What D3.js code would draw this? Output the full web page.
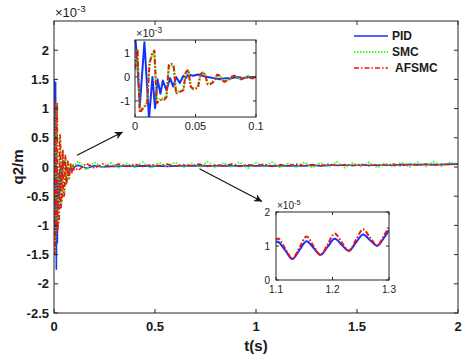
<!DOCTYPE html>
<html>
<head>
<meta charset="utf-8">
<script src="https://cdn.jsdelivr.net/npm/d3@7"></script>
<style>
  body { margin: 0; background: #fff; }
  svg text { font-family: "Liberation Sans", Arial, Helvetica, sans-serif; fill: #1a1a1a; }
</style>
</head>
<body>
<svg id="chart" width="474" height="354"></svg>
<script>
// ---------------------------------------------------------------------------
// q2 tracking error, PID vs SMC vs AFSMC, with two zoomed insets
// values in units of 1e-3 (main + first inset) and 1e-5 (second inset)
// ---------------------------------------------------------------------------

// transient, 0 .. 0.1 s (SMC / AFSMC share a time grid)
const tStart = [0, 0.002, 0.004, 0.006, 0.008, 0.010, 0.012, 0.014, 0.016, 0.018,
  0.020, 0.022, 0.024, 0.026, 0.028, 0.030, 0.032, 0.034, 0.036, 0.038,
  0.040, 0.042, 0.044, 0.046, 0.048, 0.050, 0.052, 0.054, 0.056, 0.058,
  0.060, 0.062, 0.064, 0.066, 0.068, 0.070, 0.072, 0.074, 0.076, 0.078,
  0.080, 0.082, 0.084, 0.086, 0.088, 0.090, 0.092, 0.094, 0.096, 0.098, 0.100];
const afsmcStart = [0.35, 1.15, -1.5, -1.35, -1.25, -1.1, 0.55, 0.95, 1.1, -1.1,
  -1.0, -0.95, -0.95, -0.85, 0.5, 0.55, 0.45, -0.7, -0.65, -0.6,
  -0.55, 0.2, 0.3, -0.4, -0.5, -0.5, -0.45, 0.1, 0.2, 0.1,
  -0.3, -0.3, -0.25, -0.1, 0.1, 0.05, -0.15, -0.2, -0.15, -0.1,
  0.0, 0.05, 0.0, -0.1, -0.1, -0.05, 0.0, 0.02, -0.05, -0.05, 0.0];
const smcStart = [0.3, 1.1, -1.45, -1.3, -1.2, -1.05, 0.6, 0.9, 1.05, -1.05,
  -0.95, -0.9, -0.9, -0.8, 0.45, 0.5, 0.42, -0.65, -0.6, -0.58,
  -0.5, 0.18, 0.28, -0.38, -0.46, -0.47, -0.42, 0.08, 0.18, 0.08,
  -0.28, -0.28, -0.22, -0.08, 0.08, 0.04, -0.12, -0.18, -0.13, -0.08,
  0.02, 0.06, 0.02, -0.08, -0.08, -0.03, 0.02, 0.04, -0.03, -0.02, 0.02];
// PID has its own (uneven) grid, sampled at its peaks
const pidStartT = [0, 0.0005, 0.0015, 0.004, 0.0078, 0.0116, 0.0144, 0.0166, 0.0186, 0.021,
  0.023, 0.026, 0.029, 0.0316, 0.034, 0.037, 0.040, 0.042, 0.044, 0.048,
  0.052, 0.056, 0.060, 0.065, 0.070, 0.075, 0.080, 0.085, 0.090, 0.095, 0.100];
const pidStart = [1.45, 1.5, 0.9, -1.2, 1.45, -1.75, 0.0, -1.3, -0.1, -0.7,
  -0.15, -0.55, -0.05, -0.4, 0.0, -0.25, 0.05, -0.05, 0.1, 0.05,
  0.1, 0.05, 0.0, -0.05, -0.1, -0.05, -0.05, 0.0, -0.05, 0.0, 0.0];

// steady state, 0.12 .. 2 s
const tTail = [0.12, 0.16, 0.20, 0.24, 0.28, 0.32, 0.36, 0.40, 0.44, 0.48,
  0.52, 0.56, 0.60, 0.64, 0.68, 0.72, 0.76, 0.80, 0.84, 0.88,
  0.92, 0.96, 1.00, 1.04, 1.08, 1.12, 1.16, 1.20, 1.24, 1.28,
  1.32, 1.36, 1.40, 1.44, 1.48, 1.52, 1.56, 1.60, 1.64, 1.68,
  1.72, 1.76, 1.80, 1.84, 1.88, 1.92, 1.96, 2.00];
const pidTail = [0.03, -0.02, 0.02, 0.0, 0.01, 0.01, 0.02, 0.01, 0.02, 0.01,
  0.02, 0.01, 0.02, 0.02, 0.02, 0.02, 0.02, 0.02, 0.02, 0.02,
  0.02, 0.02, 0.02, 0.02, 0.02, 0.02, 0.02, 0.02, 0.02, 0.03,
  0.02, 0.03, 0.03, 0.03, 0.03, 0.03, 0.03, 0.03, 0.03, 0.03,
  0.04, 0.04, 0.04, 0.04, 0.04, 0.04, 0.05, 0.05];
const smcTail = [0.1, -0.04, 0.08, 0.0, 0.07, -0.01, 0.06, 0.0, 0.08, -0.02,
  0.07, 0.01, 0.08, -0.01, 0.06, 0.0, 0.09, -0.01, 0.07, 0.0,
  0.08, -0.02, 0.07, 0.01, 0.08, -0.01, 0.06, 0.0, 0.08, -0.01,
  0.07, 0.0, 0.09, -0.01, 0.07, 0.01, 0.08, -0.01, 0.07, 0.0,
  0.08, 0.0, 0.08, 0.01, 0.09, 0.01, 0.08, 0.05];
const afsmcTail = [-0.06, 0.06, -0.02, 0.05, 0.0, 0.05, 0.01, 0.05, 0.01, 0.04,
  0.02, 0.05, 0.01, 0.04, 0.02, 0.05, 0.01, 0.04, 0.02, 0.05,
  0.01, 0.04, 0.02, 0.05, 0.01, 0.04, 0.02, 0.05, 0.02, 0.04,
  0.02, 0.05, 0.02, 0.04, 0.02, 0.05, 0.02, 0.04, 0.03, 0.05,
  0.02, 0.05, 0.03, 0.05, 0.03, 0.05, 0.04, 0.05];

// detail 1.1 .. 1.3 s (x1e-5)
const tDetail = [1.100, 1.104, 1.1165, 1.129, 1.1415, 1.154, 1.1665, 1.179, 1.1915,
  1.204, 1.2165, 1.229, 1.2415, 1.254, 1.2665, 1.279, 1.2915, 1.300];
const pidDetail = [1.10, 1.12, 0.87, 0.62, 0.88, 1.14, 0.94, 0.74, 0.98,
  1.21, 1.03, 0.86, 1.10, 1.34, 1.17, 1.01, 1.25, 1.47];
const afsmcDetail = [1.17, 1.22, 0.92, 0.62, 0.95, 1.28, 1.00, 0.73, 1.05,
  1.37, 1.10, 0.86, 1.18, 1.49, 1.25, 1.01, 1.32, 1.57];

const mainXTicks = [0, 0.5, 1, 1.5, 2];
const mainYTicks = [-2.5, -2, -1.5, -1, -0.5, 0, 0.5, 1, 1.5, 2];
const zoomXTicks = [0, 0.05, 0.1];
const zoomYTicks = [-1, 0, 1];
const detailXTicks = [1.1, 1.2, 1.3];
const detailYTicks = [0, 1, 2];

const legendNames = ["PID", "SMC", "AFSMC"];

// arrows in main-axes data units: [t0, v0, t1, v1]
const arrows = [
  [0.114, 0.2, 0.34, 0.6],
  [0.72, -0.03, 1.03, -0.59],
];

const STYLE = {
  PID:   { color: "#1034ff", width: 1.6, dash: null },
  SMC:   { color: "#33ff00", width: 1.9, dash: "1.4,1.6" },
  AFSMC: { color: "#f21212", width: 1.6, dash: "5,2,1.5,2" },
};

const pair = (ts, vs) => ts.map((t, i) => ({ t, v: vs[i] }));
const series = {
  PID:   pair(pidStartT, pidStart).concat(pair(tTail, pidTail)),
  SMC:   pair(tStart, smcStart).concat(pair(tTail, smcTail)),
  AFSMC: pair(tStart, afsmcStart).concat(pair(tTail, afsmcTail)),
};
const detail = {
  PID:   pair(tDetail, pidDetail),
  AFSMC: pair(tDetail, afsmcDetail),
};

const svg = d3.select("#chart");

// axes box with inward ticks on all four sides (matlab "box on")
function frame(g, x, y, xt, yt, o) {
  const [x0, x1] = x.range(), [y0, y1] = y.range();
  g.append("rect")
    .attr("x", x0).attr("y", y1).attr("width", x1 - x0).attr("height", y0 - y1)
    .attr("fill", "none").attr("stroke", "#262626").attr("stroke-width", 1);
  const tk = o.tick;
  xt.forEach((d) => {
    g.append("line").attr("x1", x(d)).attr("x2", x(d)).attr("y1", y0).attr("y2", y0 - tk)
      .attr("stroke", "#262626");
    g.append("line").attr("x1", x(d)).attr("x2", x(d)).attr("y1", y1).attr("y2", y1 + tk)
      .attr("stroke", "#262626");
    g.append("text").attr("x", x(d)).attr("y", y0 + o.xLab)
      .attr("text-anchor", "middle").attr("font-size", o.font).attr("font-weight", o.weight)
      .text(d3.format("~g")(d));
  });
  yt.forEach((d) => {
    g.append("line").attr("x1", x0).attr("x2", x0 + tk).attr("y1", y(d)).attr("y2", y(d))
      .attr("stroke", "#262626");
    g.append("line").attr("x1", x1).attr("x2", x1 - tk).attr("y1", y(d)).attr("y2", y(d))
      .attr("stroke", "#262626");
    g.append("text").attr("x", x0 - o.yLab).attr("y", y(d)).attr("dy", "0.35em")
      .attr("text-anchor", "end").attr("font-size", o.font).attr("font-weight", o.weight)
      .text(d3.format("~g")(d).replace("−", "-"));
  });
  // exponent label "×10^n"
  const ex = g.append("text").attr("x", x0 + o.expDx).attr("y", y1 - o.expDy)
    .attr("font-size", o.expFont);
  ex.append("tspan").text("\u00d710");
  ex.append("tspan").attr("dy", -o.expFont * 0.4).attr("font-size", o.expFont * 0.75).text(o.exp);
}

function drawLines(g, x, y, data, names, clipId, widthScale) {
  const line = d3.line().x((d) => x(d.t)).y((d) => y(d.v));
  const lg = g.append("g").attr("clip-path", `url(#${clipId})`);
  names.forEach((n) => {
    const s = STYLE[n];
    lg.append("path")
      .attr("d", line(data[n]))
      .attr("fill", "none").attr("stroke", s.color).attr("stroke-width", s.width * widthScale)
      .attr("stroke-dasharray", s.dash).attr("stroke-linejoin", "round");
  });
}

function clip(id, x, y) {
  const [x0, x1] = x.range(), [y0, y1] = y.range();
  svg.append("clipPath").attr("id", id).append("rect")
    .attr("x", x0).attr("y", y1).attr("width", x1 - x0).attr("height", y0 - y1);
}

// ---- main axes
const x = d3.scaleLinear().domain([0, 2]).range([54, 458]);
const y = d3.scaleLinear().domain([-2.5, 2.5]).range([313, 21]);
clip("clip-main", x, y);
const gMain = svg.append("g");
drawLines(gMain, x, y, series, legendNames, "clip-main", 1);
frame(gMain, x, y, mainXTicks, mainYTicks,
  { tick: 4, font: 13, weight: "bold", xLab: 18, yLab: 5, expDx: 1, expDy: 4, expFont: 13, exp: "-3" });

svg.append("text").attr("x", (x.range()[0] + x.range()[1]) / 2).attr("y", 351)
  .attr("text-anchor", "middle").attr("font-size", 15).attr("font-weight", "bold").text("t(s)");
svg.append("text").attr("transform", `translate(23,${y(0)}) rotate(-90)`)
  .attr("text-anchor", "middle").attr("font-size", 15).attr("font-weight", "bold").text("q2/m");

// ---- legend
const leg = svg.append("g");
legendNames.forEach((n, i) => {
  const s = STYLE[n], ly = 36 + i * 16;
  leg.append("line").attr("x1", 354).attr("x2", 388).attr("y1", ly).attr("y2", ly)
    .attr("stroke", s.color).attr("stroke-width", s.width).attr("stroke-dasharray", s.dash);
  leg.append("text").attr("x", n === "AFSMC" ? 395 : 392).attr("y", ly).attr("dy", "0.35em")
    .attr("font-size", 12).attr("font-weight", "bold").text(n);
});

// ---- arrows
const defs = svg.append("defs");
defs.append("marker").attr("id", "head").attr("viewBox", "0 0 10 10")
  .attr("refX", 10).attr("refY", 5).attr("markerWidth", 11).attr("markerHeight", 8)
  .attr("markerUnits", "userSpaceOnUse").attr("orient", "auto")
  .append("path").attr("d", "M0,0L10,5L0,10L3,5Z").attr("fill", "#111");
arrows.forEach((a) => {
  svg.append("line").attr("x1", x(a[0])).attr("y1", y(a[1])).attr("x2", x(a[2])).attr("y2", y(a[3]))
    .attr("stroke", "#111").attr("stroke-width", 1.1).attr("marker-end", "url(#head)");
});

// ---- inset 1: 0 .. 0.1 s
const xz = d3.scaleLinear().domain([0, 0.1]).range([135, 256]);
const yz = d3.scaleLinear().domain([-1.67, 1.54]).range([117, 40]);
const gZoom = svg.append("g");
gZoom.append("rect").attr("x", 135).attr("y", 40).attr("width", 121).attr("height", 77).attr("fill", "#fff");
clip("clip-zoom", xz, yz);
drawLines(gZoom, xz, yz, series, legendNames, "clip-zoom", 1.25);
frame(gZoom, xz, yz, zoomXTicks, zoomYTicks,
  { tick: 3, font: 11, weight: "normal", xLab: 13, yLab: 5, expDx: 1, expDy: 3, expFont: 11, exp: "-3" });

// ---- inset 2: 1.1 .. 1.3 s
const xd = d3.scaleLinear().domain([1.1, 1.3]).range([276, 389]);
const yd = d3.scaleLinear().domain([0, 2]).range([280, 212]);
const gDet = svg.append("g");
gDet.append("rect").attr("x", 276).attr("y", 212).attr("width", 113).attr("height", 68).attr("fill", "#fff");
clip("clip-det", xd, yd);
const detLine = d3.line().x((d) => xd(d.t)).y((d) => yd(d.v)).curve(d3.curveCatmullRom);
const gDetLines = gDet.append("g").attr("clip-path", "url(#clip-det)");
["PID", "AFSMC"].forEach((n) => {
  const s = STYLE[n];
  gDetLines.append("path").attr("d", detLine(detail[n]))
    .attr("fill", "none").attr("stroke", s.color).attr("stroke-width", 2)
    .attr("stroke-dasharray", s.dash);
});
frame(gDet, xd, yd, detailXTicks, detailYTicks,
  { tick: 3, font: 10, weight: "normal", xLab: 13, yLab: 6, expDx: 1, expDy: 3, expFont: 10, exp: "-5" });
</script>
</body>
</html>
